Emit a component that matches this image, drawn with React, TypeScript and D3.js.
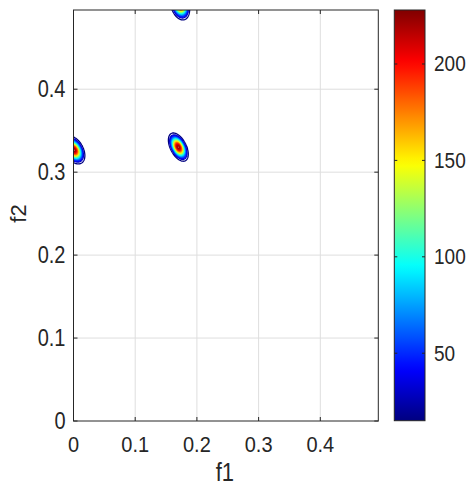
import React, { useMemo } from "react";
import * as d3 from "d3";

const W = 474;
const H = 488;

// axis ticks
const xTicks = [0, 0.1, 0.2, 0.3, 0.4];
const yTicks = [0, 0.1, 0.2, 0.3, 0.4];
const cbTicks = [50, 100, 150, 200];
const xDomain = [0, 0.494];
const yDomain = [0, 0.4955];
const cDomain = [15, 228];

// peaks of the density field
const peakX = [0.0005, 0.1695, 0.172];
const peakY = [0.327, 0.3305, 0.502];
const peakAmp = [228, 228, 228];
const peakSx = [0.0075, 0.0069, 0.0068];
const peakSy = [0.0072, 0.0073, 0.0078];
const peakRho = [-0.4, -0.5, -0.3];

const levels = [15, ...d3.range(29, 228, 8)];

const M = { left: 73.5, right: 378.3, top: 10, bottom: 421 };
const CB = { left: 394.3, right: 425, top: 10, bottom: 420.7 };
const FONT = "'Liberation Sans', Arial, Helvetica, sans-serif";
const AX = "#262626";

function jet(t: number): string {
  const c = (v: number) => Math.max(0, Math.min(1, v));
  const r = c(1.5 - Math.abs(4 * t - 3));
  const g = c(1.5 - Math.abs(4 * t - 2));
  const b = c(1.5 - Math.abs(4 * t - 1));
  return d3.rgb(r * 255, g * 255, b * 255).formatHex();
}

function field(x: number, y: number): number {
  let s = 0;
  for (let k = 0; k < peakX.length; k++) {
    const dx = (x - peakX[k]) / peakSx[k];
    const dy = (y - peakY[k]) / peakSy[k];
    const r = peakRho[k];
    const q = (dx * dx - 2 * r * dx * dy + dy * dy) / (1 - r * r);
    s += peakAmp[k] * Math.exp(-0.5 * q);
  }
  return s;
}

const SY = 1.12;

function Txt(props: { x: number; y: number; anchor: string; size: number; sy?: number; dy?: number; children: any }) {
  const sy = props.sy ?? SY;
  return (
    <g transform={`translate(${props.x},${props.y}) scale(1,${sy})`}>
      <text x={0} y={props.dy ?? 0} textAnchor={props.anchor} fontFamily={FONT} fontSize={props.size} fill={AX}>
        {props.children}
      </text>
    </g>
  );
}

export default function App() {
  const xs = d3.scaleLinear().domain(xDomain).range([M.left, M.right]);
  const ys = d3.scaleLinear().domain(yDomain).range([M.bottom, M.top]);
  const cs = d3.scaleLinear().domain(cDomain).range([CB.bottom, CB.top]);

  const paths = useMemo(() => {
    const step = 0.5;
    const pad = 12;
    const x0 = M.left - pad, y0 = M.top - pad;
    const nx = Math.ceil((M.right - M.left + 2 * pad) / step) + 1;
    const ny = Math.ceil((M.bottom - M.top + 2 * pad) / step) + 1;
    const vals = new Float64Array(nx * ny);
    for (let j = 0; j < ny; j++) {
      const dy = ys.invert(y0 + j * step);
      for (let i = 0; i < nx; i++) {
        vals[i + j * nx] = field(xs.invert(x0 + i * step), dy);
      }
    }
    const cont = d3.contours().size([nx, ny]).thresholds(levels)(Array.from(vals));
    const tr = d3.geoTransform({
      point(x: number, y: number) {
        (this as any).stream.point(x0 + x * step, y0 + y * step);
      },
    });
    const gp = d3.geoPath(tr);
    return cont.map((c) => ({ d: gp(c as any) || "", v: c.value }));
  }, []);

  const tickLen = 4;
  const gradStops = d3.range(0, 1.0001, 0.02);

  return (
    <svg width={W} height={H} style={{ position: "absolute", left: 0, top: 0, background: "#fff" }}>
      <defs>
        <clipPath id="plotclip">
          <rect x={M.left} y={M.top} width={M.right - M.left} height={M.bottom - M.top} />
        </clipPath>
        <linearGradient id="jetgrad" x1="0" y1="1" x2="0" y2="0">
          {gradStops.map((t) => (
            <stop key={t} offset={t} stopColor={jet(t)} />
          ))}
        </linearGradient>
      </defs>
      <rect x={0} y={0} width={W} height={H} fill="#fff" />
      {/* grid */}
      {xTicks.slice(1).map((t) => (
        <line key={"gx" + t} x1={xs(t)} x2={xs(t)} y1={M.top} y2={M.bottom} stroke="#dedede" strokeWidth={1} />
      ))}
      {yTicks.slice(1).map((t) => (
        <line key={"gy" + t} y1={ys(t)} y2={ys(t)} x1={M.left} x2={M.right} stroke="#dedede" strokeWidth={1} />
      ))}
      {/* contours */}
      <g clipPath="url(#plotclip)">
        {paths.map((p, i) => (
          <path key={i} d={p.d} fill="none" stroke={jet((p.v - cDomain[0]) / (cDomain[1] - cDomain[0]))} strokeWidth={1.3} />
        ))}
      </g>
      {/* box */}
      <rect x={M.left} y={M.top} width={M.right - M.left} height={M.bottom - M.top} fill="none" stroke={AX} strokeWidth={1} />
      {xTicks.map((t) => (
        <g key={"xt" + t}>
          <line x1={xs(t)} x2={xs(t)} y1={M.bottom} y2={M.bottom - tickLen} stroke={AX} />
          <line x1={xs(t)} x2={xs(t)} y1={M.top} y2={M.top + tickLen} stroke={AX} />
          <Txt x={xs(t)} y={M.bottom + 31} anchor="middle" size={20}>
            {t === 0 ? "0" : String(t)}
          </Txt>
        </g>
      ))}
      {yTicks.map((t) => (
        <g key={"yt" + t}>
          <line x1={M.left} x2={M.left + tickLen} y1={ys(t)} y2={ys(t)} stroke={AX} />
          <line x1={M.right} x2={M.right - tickLen} y1={ys(t)} y2={ys(t)} stroke={AX} />
          <Txt x={M.left - 8} y={ys(t) + 8} anchor="end" size={20} sy={1.2}>
            {t === 0 ? "0" : String(t)}
          </Txt>
        </g>
      ))}
      <Txt x={(M.left + M.right) / 2 - 1} y={481} anchor="middle" size={22} sy={1.2}>
        f1
      </Txt>
      <g transform={`translate(26,${(M.top + M.bottom) / 2 - 2}) rotate(-90)`}>
        <text x={0} y={0} textAnchor="middle" fontFamily={FONT} fontSize={22} fill={AX}>
          f2
        </text>
      </g>
      {/* colorbar */}
      <rect x={CB.left} y={CB.top} width={CB.right - CB.left} height={CB.bottom - CB.top} fill="url(#jetgrad)" stroke={AX} strokeWidth={1} />
      {cbTicks.map((t) => (
        <g key={"cb" + t}>
          <line x1={CB.left} x2={CB.left + 3} y1={cs(t)} y2={cs(t)} stroke={AX} />
          <line x1={CB.right} x2={CB.right - 3} y1={cs(t)} y2={cs(t)} stroke={AX} />
          <Txt x={CB.right + 9} y={cs(t) + 7.5} anchor="start" size={19} sy={1.15}>
            {t}
          </Txt>
        </g>
      ))}
    </svg>
  );
}
